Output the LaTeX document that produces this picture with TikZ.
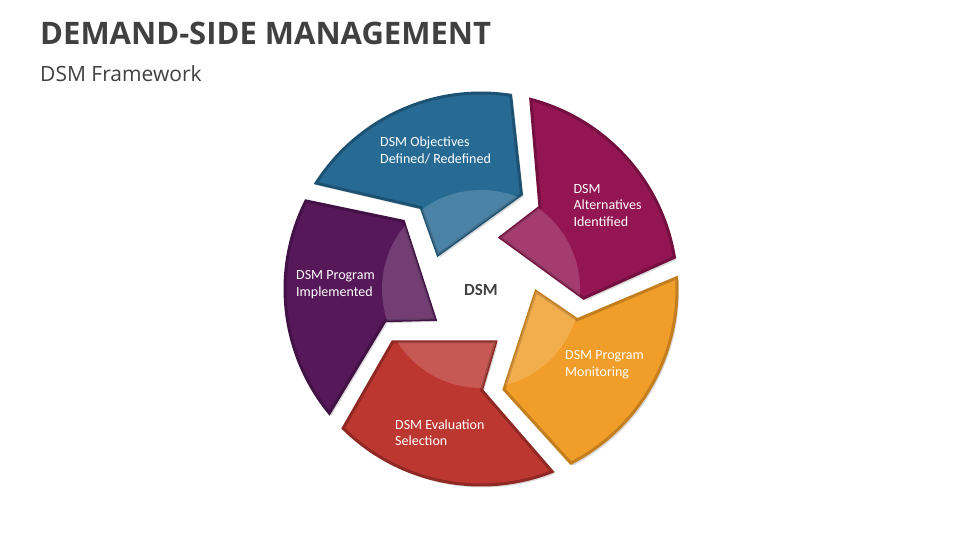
\documentclass[tikz,border=0pt]{standalone}
\usepackage{fontspec}
\setmainfont{Open Sans}
\newfontfamily\calfont{Carlito}
\usetikzlibrary{shadows}

\definecolor{titlegray}{HTML}{404040}
\definecolor{dsmblue}{HTML}{276B94}
\definecolor{dsmblueedge}{HTML}{1D5273}
\definecolor{dsmmagenta}{HTML}{931552}
\definecolor{dsmmagentaedge}{HTML}{74103F}
\definecolor{dsmorange}{HTML}{F09E29}
\definecolor{dsmorangeedge}{HTML}{C47E1E}
\definecolor{dsmred}{HTML}{BD3731}
\definecolor{dsmrededge}{HTML}{902823}
\definecolor{dsmpurple}{HTML}{561859}
\definecolor{dsmpurpleedge}{HTML}{421246}

\tikzset{
  seg/.style={line width=3pt, line join=miter, drop shadow={shadow xshift=2pt, shadow yshift=-2.5pt, opacity=0.3}},
  gloss/.style={white, opacity=0.17},
  seglabel/.style={anchor=base west, inner sep=0pt, align=left, text=white, font=\calfont\fontsize{14}{16.7}\selectfont},
}

% one piece of the ring, #1 = angle where its outer arc starts
\newcommand{\dsmsegment}[1]{([shift={(#1:196pt)}]C) arc[start angle=#1, end angle=#1-66, radius=196pt] -- ([shift={(#1-80.4:103pt)}]C) -- ([shift={(#1-5.8:55pt)}]C) -- ([shift={(#1-21:101pt)}]C) -- cycle}

\begin{document}
\begin{tikzpicture}[x=1pt, y=1pt]
\useasboundingbox (0,0) rectangle (960,540);
\node[anchor=base west, inner sep=0pt, text=titlegray, font=\bfseries\fontsize{31}{35}\selectfont] (ttl) at (40,495) {DEMAND-SIDE MANAGEMENT};
\node[anchor=base west, inner sep=0pt, text=titlegray, font=\fontsize{21}{25}\selectfont] (subttl) at (40,458) {DSM Framework};

\coordinate (C) at (481,251);
\foreach \s/\fc/\ec in {147.3/dsmblue/dsmblueedge, 75.3/dsmmagenta/dsmmagentaedge, 3.3/dsmorange/dsmorangeedge, -68.7/dsmred/dsmrededge, -140.7/dsmpurple/dsmpurpleedge}{
  \path[seg, fill=\fc, draw=\ec] \dsmsegment{\s};
  \begin{scope}
    \clip \dsmsegment{\s};
    \fill[gloss] (C) circle[radius=99pt];
  \end{scope}
}

% labels sit on the baseline of their last line
\node[seglabel] (lblobj) at (380,376.7) {DSM Objectives\\Defined/ Redefined};
\node[seglabel] (lblalt) at (573.3,313.3) {DSM\\Alternatives\\Identified};
\node[seglabel] (lblmon) at (565,163.3) {DSM Program\\Monitoring};
\node[seglabel] (lbleval) at (395,94) {DSM Evaluation\\Selection};
\node[seglabel] (lblimp) at (296,243.3) {DSM Program\\Implemented};
\node[anchor=base, inner sep=0pt, text=titlegray, font=\calfont\bfseries\fontsize{17}{20}\selectfont] (hub) at (C|-0,244) {DSM};
\end{tikzpicture}
\end{document}
